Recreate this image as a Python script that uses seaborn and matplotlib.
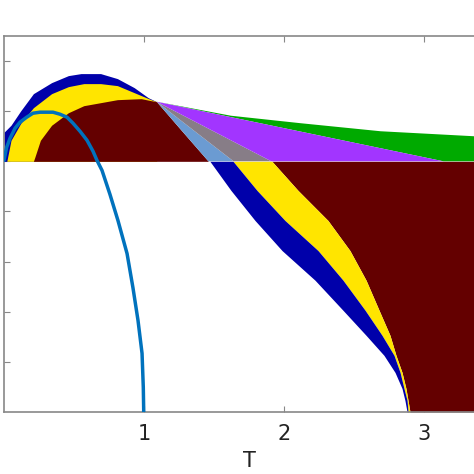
import numpy as np
import matplotlib
matplotlib.use('Agg')
import matplotlib.pyplot as plt
import seaborn as sns

# --- data (x = T, y = vertical axis) ---
# upper domes, y >= 0
blue_top_x   = [0.0, 0.05, 0.12, 0.21, 0.34, 0.46, 0.55, 0.69, 0.81, 0.93, 1.03, 1.09]
blue_top_y   = [0.58, 0.72, 1.01, 1.35, 1.57, 1.71, 1.75, 1.75, 1.65, 1.47, 1.27, 1.19]
yellow_top_x = [0.02, 0.05, 0.12, 0.21, 0.34, 0.46, 0.57, 0.69, 0.81, 0.93, 1.05, 1.09]
yellow_top_y = [0.0, 0.42, 0.76, 1.07, 1.35, 1.49, 1.55, 1.55, 1.51, 1.37, 1.23, 1.19]
maroon_top_x = [0.21, 0.22, 0.26, 0.34, 0.46, 0.57, 0.69, 0.81, 0.98, 1.05, 1.09, 1.26, 1.46]
maroon_top_y = [0.0, 0.08, 0.42, 0.72, 0.97, 1.11, 1.17, 1.23, 1.25, 1.21, 1.19, 0.64, 0.0]

# fan of wedges from the meeting point
fan_x, fan_y = 1.09, 1.19
lightblue_end = [1.46, 1.64]
gray_end      = [1.64, 1.91]
purple_end    = [1.91, 3.14]
green_top_x = [1.09, 1.62, 2.12, 2.69, 3.36, 3.5]
green_top_y = [1.19, 0.91, 0.76, 0.60, 0.50, 0.48]

# lower bands, y <= 0 (x of each boundary at given y)
low_y        = [0.0, -0.58, -1.18, -1.78, -2.37, -2.97, -3.47, -3.87, -4.21, -4.53, -4.77, -5.0]
blue_outer_x = [1.471, 1.621, 1.793, 1.986, 2.221, 2.421, 2.586, 2.714, 2.793, 2.843, 2.864, 2.879]
blue_yel_x   = [1.636, 1.807, 2.007, 2.243, 2.421, 2.579, 2.700, 2.786, 2.829, 2.857, 2.879, 2.886]
yel_mar_x    = [1.914, 2.100, 2.314, 2.471, 2.586, 2.679, 2.757, 2.800, 2.843, 2.871, 2.886, 2.900]

# blue curve
curve_x = [0.0, 0.019, 0.043, 0.079, 0.114, 0.162, 0.207, 0.257, 0.307, 0.35, 0.40, 0.45,
           0.493, 0.543, 0.593, 0.636, 0.664, 0.70, 0.757, 0.814, 0.879, 0.921, 0.957,
           0.986, 0.995, 0.998]
curve_y = [0.02, 0.28, 0.46, 0.66, 0.78, 0.88, 0.96, 0.98, 0.98, 0.98, 0.94, 0.88,
           0.76, 0.60, 0.42, 0.20, 0.02, -0.18, -0.66, -1.18, -1.84, -2.52, -3.17,
           -3.83, -4.51, -5.0]

xticks = [1, 2, 3]
yticks = [-4, -3, -2, -1, 0, 1, 2]

c_blue   = '#0000AA'
c_yellow = '#FFE500'
c_maroon = '#640000'
c_lblue  = '#6B9BD2'
c_gray   = '#877D87'
c_purple = '#A235FF'
c_green  = '#00AA00'
c_line   = '#0072BD'

sns.set_style('white')
plt.rcParams['font.family'] = ['DejaVu Sans']

fig = plt.figure(figsize=(4.74, 4.74), dpi=100)
ax = fig.add_axes([4 / 474, 1 - 412 / 474, 490 / 474, 376 / 474])
ax.set_xlim(0, 3.5)
ax.set_ylim(-5, 2.5)
xmax = ax.get_xlim()[1]

# upper domes
ax.fill_between(blue_top_x, 0, blue_top_y, color=c_blue, lw=0)
ax.fill_between(yellow_top_x, 0, yellow_top_y, color=c_yellow, lw=0)
ax.fill_between(maroon_top_x, 0, maroon_top_y, color=c_maroon, lw=0)

# wedges
ax.fill([fan_x] + lightblue_end, [fan_y, 0, 0], color=c_lblue, lw=0)
ax.fill([fan_x] + gray_end, [fan_y, 0, 0], color=c_gray, lw=0)
ax.fill(green_top_x + [xmax, purple_end[1]], green_top_y + [0, 0], color=c_green, lw=0)
ax.fill([fan_x] + purple_end, [fan_y, 0, 0], color=c_purple, lw=0)

# lower bands
ax.fill_betweenx(low_y, yel_mar_x, xmax, color=c_maroon, lw=0)
ax.fill_betweenx(low_y, blue_yel_x, yel_mar_x, color=c_yellow, lw=0)
ax.fill_betweenx(low_y, blue_outer_x, blue_yel_x, color=c_blue, lw=0)

sns.lineplot(x=curve_x, y=curve_y, sort=False, color=c_line, lw=2.5, ax=ax, zorder=5)

ax.set_xticks(xticks)
ax.set_xticklabels([str(t) for t in xticks], fontsize=15, color='#222222')
ax.set_yticks(yticks)
ax.set_yticklabels([])
ax.tick_params(direction='in', length=4, width=0.8, color='#888888',
               top=True, left=True, bottom=True, pad=9)
for s in ax.spines.values():
    s.set_color('#888888')
    s.set_linewidth(1.2)
ax.set_xlabel('T', fontsize=15, color='#222222', labelpad=5)

fig.savefig('out.png', dpi=100)
